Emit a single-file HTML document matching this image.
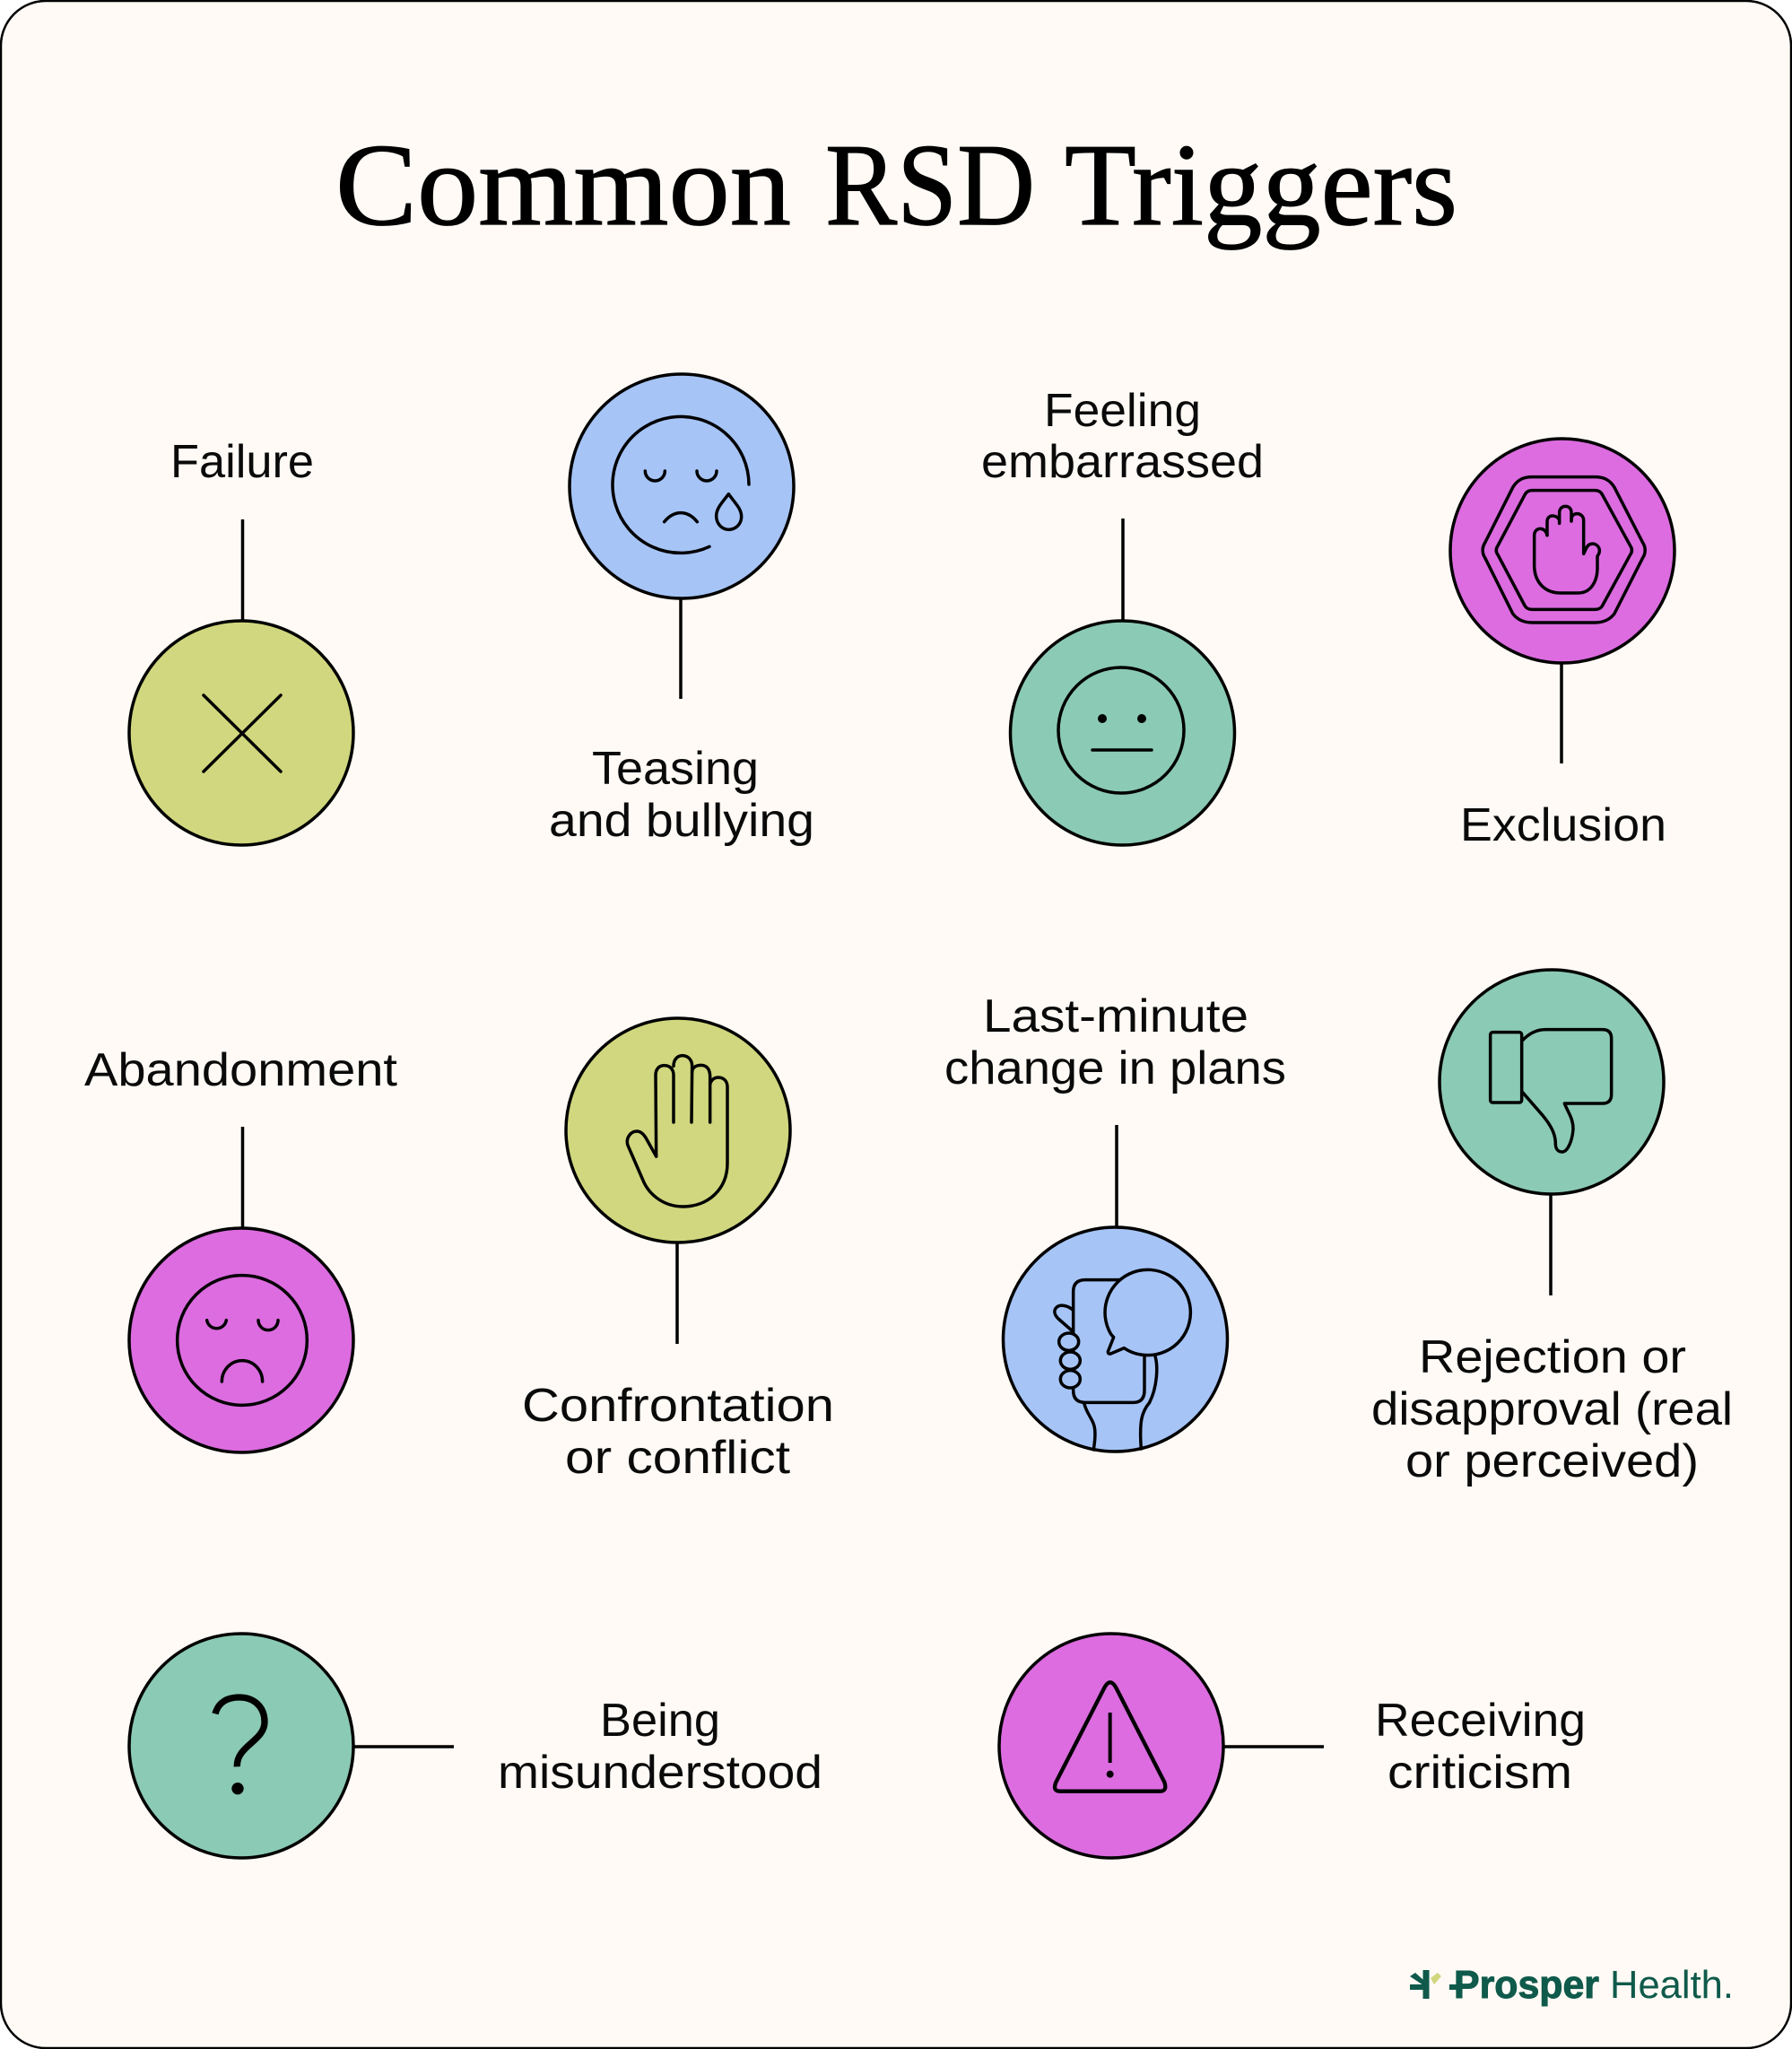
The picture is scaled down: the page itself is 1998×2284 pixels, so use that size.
<!DOCTYPE html>
<html lang="en">
<head>
<meta charset="utf-8">
<title>Common RSD Triggers</title>
<style>
html,body{margin:0;padding:0;background:#fff}
svg{display:block}
.l{font-family:"Liberation Sans",sans-serif;font-size:52px;fill:#0a0a0a}
.t{font-family:"Liberation Serif",serif;font-size:131px;fill:#000;stroke:#000;stroke-width:1.2}
.c{stroke:#000;stroke-width:3.5}
.i{fill:none;stroke:#000;stroke-width:10.5;stroke-linecap:round;stroke-linejoin:round}
.n{fill:none;stroke:#000;stroke-width:3.5;stroke-linecap:round;stroke-linejoin:round}
.w{stroke:#000;stroke-width:3.5;fill:none}
</style>
</head>
<body>
<svg xmlns="http://www.w3.org/2000/svg" width="1998" height="2284" viewBox="0 0 1998 2284">
<rect x="1" y="1" width="1996" height="2282" rx="50" ry="50" fill="#FFFAF5" stroke="#000" stroke-width="2.5"/>

<text class="t" x="374" y="250" textLength="508" lengthAdjust="spacingAndGlyphs">Common</text>
<text class="t" x="920" y="250" textLength="234" lengthAdjust="spacingAndGlyphs">RSD</text>
<text class="t" x="1187" y="250" textLength="438" lengthAdjust="spacingAndGlyphs">Triggers</text>

<!-- connectors -->
<g class="w">
<path d="M270.5 579V692"/><path d="M759 667V779"/><path d="M1252 578V692"/><path d="M1741 739V851"/>
<path d="M270.5 1256V1369"/><path d="M755 1385V1498"/><path d="M1245 1254V1368"/><path d="M1729 1331V1444"/>
<path d="M394 1947H506"/><path d="M1363 1947H1476"/>
</g>

<!-- circles -->
<circle class="c" cx="269" cy="817" r="125" fill="#D0D77E"/>
<circle class="c" cx="760" cy="542" r="125" fill="#A6C4F6"/>
<circle class="c" cx="1251.5" cy="817" r="125" fill="#8BCAB4"/>
<circle class="c" cx="1742" cy="614" r="125" fill="#DC6CE0"/>
<circle class="c" cx="269" cy="1494" r="125" fill="#DC6CE0"/>
<circle class="c" cx="756" cy="1260" r="125" fill="#D0D77E"/>
<circle class="c" cx="1243.5" cy="1493" r="125" fill="#A6C4F6"/>
<circle class="c" cx="1730" cy="1206" r="125" fill="#8BCAB4"/>
<circle class="c" cx="269" cy="1946" r="125" fill="#8BCAB4"/>
<circle class="c" cx="1239" cy="1946" r="125" fill="#DC6CE0"/>

<!-- failure X -->
<path class="n" d="M227 775L313 860M313 775L227 860"/>

<!-- neutral face -->
<circle class="n" cx="1250" cy="814" r="70"/>
<circle cx="1229" cy="801" r="5"/><circle cx="1273" cy="801" r="5"/>
<path class="n" d="M1218 836H1284"/>

<!-- teasing face -->
<g transform="translate(600 400) scale(.33333)">
<path class="i" d="M705 420A228 228 0 1 0 573 628"/>
<path class="i" d="M358 375a33 33 0 0 0 66 0"/>
<path class="i" d="M531 375a33 33 0 0 0 66 0"/>
<path class="i" d="M422 545C455 505 500 505 532 545"/>
<path class="i" d="M637 452C615 482 595 500 596 528C597 552 615 571 638 571C661 571 680 552 680 528C680 500 658 482 637 452Z"/>
</g>

<!-- stop hand -->
<g transform="translate(1600 480) scale(.33333)">
<path class="i" d="M325 155H535C565 155 585 165 600 190L695 375C705 390 705 410 695 425L600 612C585 632 565 642 535 642H325C295 642 275 632 260 612L167 425C157 410 157 390 167 375L260 190C275 165 295 155 325 155Z"/>
<path class="i" d="M325 200H535C547 200 555 205 560 215L653 385C660 395 660 405 653 415L560 585C555 595 547 598 535 598H325C313 598 305 595 300 585L210 415C203 405 203 395 210 385L300 215C305 205 313 200 325 200Z"/>
<path class="i" d="M375 350C372 335 362 328 352 328C340 328 332 338 332 350L332 450C332 510 370 543 420 543L480 543C520 543 543 505 543 460L543 420C550 410 552 400 548 392C540 375 515 372 505 395L497 412L497 300C497 285 485 278 475 278C462 278 456 288 456 300"/>
<path class="i" d="M456 303L456 275C456 260 447 253 436 253C424 253 416 262 416 275L416 310"/>
<path class="i" d="M416 300C412 290 403 285 393 285C382 285 375 293 375 305L375 350"/>
</g>

<!-- abandonment face -->
<g transform="translate(170 1400) scale(.33333)">
<circle class="i" cx="300" cy="282" r="217"/>
<path class="i" d="M182 215a33 33 0 0 0 65 0"/>
<path class="i" d="M354 215a33 33 0 0 0 66 0"/>
<path class="i" d="M232 420A68 70 0 0 1 368 420"/>
</g>

<!-- raised hand -->
<g transform="translate(640 1140) scale(.33333)">
<path class="i" d="M275 447L273 175C273 155 285 143 302 143C320 143 333 155 333 175L333 333"/>
<path class="i" d="M333 145C333 122 347 110 363 110C382 110 395 125 395 145L393 333"/>
<path class="i" d="M395 165C395 150 408 142 425 142C443 142 455 155 455 180V333"/>
<path class="i" d="M455 205C460 190 470 183 483 183C500 183 513 195 513 215V470C513 560 445 615 365 615C300 615 250 575 230 525L180 410C172 385 190 363 210 363C225 363 235 375 243 390L275 447"/>
</g>

<!-- phone -->
<g transform="translate(1110 1360) scale(.33333)">
<path class="i" d="M420 200H300Q260 200 260 240V570Q260 610 300 610H460Q498 610 498 570V455"/>
<path class="i" d="M258 300C240 285 215 280 203 293C192 305 200 320 210 330L258 372"/>
<ellipse class="i" cx="245" cy="407" rx="33" ry="29" style="fill:#A6C4F6"/>
<ellipse class="i" cx="250" cy="470" rx="33" ry="29" style="fill:#A6C4F6"/>
<ellipse class="i" cx="250" cy="532" rx="33" ry="29" style="fill:#A6C4F6"/>
<path class="i" d="M296 612C305 650 330 670 332 700C335 730 330 750 328 768"/>
<path class="i" d="M533 452C545 490 540 560 515 610C490 640 480 670 487 765"/>
<path class="i" style="fill:#A6C4F6" d="M395 392L376 440Q376 449 385 447L430 428C455 445 480 452 510 452A143 143 0 1 0 385 380Q388 385 395 392Z"/>
</g>

<!-- thumbs down -->
<g transform="translate(1600 1080) scale(.33333)">
<rect class="i" x="185" y="212" width="105" height="235" rx="8"/>
<path class="i" d="M292 240C315 215 340 203 370 203H560Q590 203 590 233V420Q590 450 560 450H433C445 480 462 500 462 535C460 570 445 612 425 612C410 612 403 600 403 585C403 550 385 520 360 490L292 412"/>
</g>

<!-- question -->
<g transform="translate(200 1871) scale(.33333)">
<path d="M120 118C130 80 160 63 200 63C250 63 285 95 285 145C285 210 190 225 193 295" fill="none" stroke="#000" stroke-width="22"/>
<circle cx="195" cy="368" r="20"/>
</g>

<!-- warning -->
<g transform="translate(1150 1840) scale(.33333)">
<path class="i" style="stroke-width:13" d="M245 122Q263 90 282 122L445 440Q455 470 430 470H95Q70 470 82 440Z"/>
<path d="M263 207V375" stroke="#000" stroke-width="12" fill="none"/>
<circle cx="263" cy="413" r="12"/>
</g>

<!-- labels -->
<text class="l" x="190" y="532" textLength="160" lengthAdjust="spacingAndGlyphs">Failure</text>
<text class="l" x="660" y="874" textLength="186" lengthAdjust="spacingAndGlyphs">Teasing</text>
<text class="l" x="612" y="932" textLength="296" lengthAdjust="spacingAndGlyphs">and bullying</text>
<text class="l" x="1164" y="475" textLength="175" lengthAdjust="spacingAndGlyphs">Feeling</text>
<text class="l" x="1094" y="532" textLength="315" lengthAdjust="spacingAndGlyphs">embarrassed</text>
<text class="l" x="1628" y="937" textLength="230" lengthAdjust="spacingAndGlyphs">Exclusion</text>
<text class="l" x="94" y="1210" textLength="349" lengthAdjust="spacingAndGlyphs">Abandonment</text>
<text class="l" x="582" y="1584" textLength="348" lengthAdjust="spacingAndGlyphs">Confrontation</text>
<text class="l" x="630" y="1642" textLength="251" lengthAdjust="spacingAndGlyphs">or conflict</text>
<text class="l" x="1096" y="1150" textLength="296" lengthAdjust="spacingAndGlyphs">Last-minute</text>
<text class="l" x="1053" y="1208" textLength="381" lengthAdjust="spacingAndGlyphs">change in plans</text>
<text class="l" x="1582" y="1530" textLength="298" lengthAdjust="spacingAndGlyphs">Rejection or</text>
<text class="l" x="1529" y="1588" textLength="403" lengthAdjust="spacingAndGlyphs">disapproval (real</text>
<text class="l" x="1567" y="1646" textLength="327" lengthAdjust="spacingAndGlyphs">or perceived)</text>
<text class="l" x="669" y="1935" textLength="134" lengthAdjust="spacingAndGlyphs">Being</text>
<text class="l" x="555" y="1993" textLength="362" lengthAdjust="spacingAndGlyphs">misunderstood</text>
<text class="l" x="1533" y="1935" textLength="235" lengthAdjust="spacingAndGlyphs">Receiving</text>
<text class="l" x="1547" y="1993" textLength="206" lengthAdjust="spacingAndGlyphs">criticism</text>

<!-- logo -->
<g fill="#0F5A4B">
<rect x="1586.5" y="2196" width="7" height="32"/>
<path d="M1572 2203L1578 2199L1587 2207L1587 2213Z"/>
<rect x="1572" y="2212" width="15" height="6"/>
<rect x="1616" y="2212" width="14" height="6"/>
<text x="1621" y="2227" font-family="'Liberation Sans',sans-serif" font-size="44" font-weight="700" stroke="#0F5A4B" stroke-width="1" textLength="162" lengthAdjust="spacingAndGlyphs">Prosper</text>
<text x="1795" y="2227" font-family="'Liberation Sans',sans-serif" font-size="44" textLength="138" lengthAdjust="spacingAndGlyphs">Health.</text>
</g>
<path d="M1595 2205L1603 2199L1607 2203L1599 2212Z" fill="#D0D77E"/>
</svg>
</body>
</html>
